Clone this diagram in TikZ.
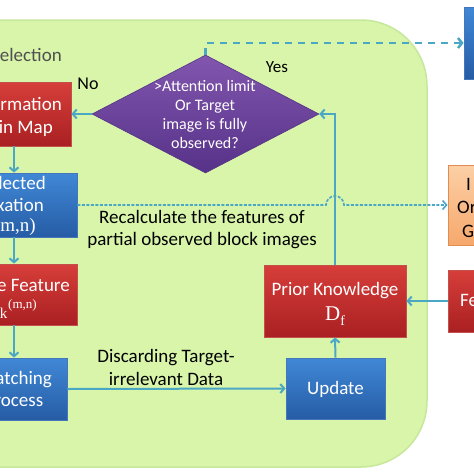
\documentclass[tikz,border=0pt]{standalone}
\usepackage[no-math]{fontspec}
\setmainfont{Carlito}
\newfontfamily\serifmath{Liberation Serif}
\usetikzlibrary{arrows.meta,shapes.geometric,calc}
\definecolor{bggreen}{RGB}{216,245,170}
\definecolor{bgedge}{RGB}{198,232,156}
\definecolor{conncol}{RGB}{75,168,196}
\definecolor{redtop}{RGB}{214,62,58}
\definecolor{redbot}{RGB}{170,32,34}
\definecolor{rededge}{RGB}{196,80,76}
\definecolor{bluetop}{RGB}{64,136,214}
\definecolor{bluebot}{RGB}{38,92,165}
\definecolor{blueedge}{RGB}{70,118,186}
\definecolor{purtop}{RGB}{130,86,174}
\definecolor{purbot}{RGB}{86,50,136}
\definecolor{orangetop}{RGB}{252,208,166}
\definecolor{orangebot}{RGB}{246,168,108}
\definecolor{orangeedge}{RGB}{226,140,82}
\definecolor{labelgray}{RGB}{80,80,80}
\tikzset{
  redbox/.style={rectangle, top color=redtop, bottom color=redbot, draw=rededge, line width=0.8pt, inner sep=0pt},
  bluebox/.style={rectangle, top color=bluetop, bottom color=bluebot, draw=blueedge, line width=0.8pt, inner sep=0pt},
  orangebox/.style={rectangle, top color=orangetop, bottom color=orangebot, draw=orangeedge, line width=0.8pt, inner sep=0pt},
  wtxt/.style={text=white, font=\fontsize{19}{23}\selectfont, inner sep=0pt},
  wser/.style={text=white, inner sep=0pt},
  btxt/.style={text=black, font=\fontsize{19}{22}\selectfont, inner sep=0pt},
  conn/.style={draw=conncol, line width=2pt, -{Straight Barb[length=4pt,width=9pt]}},
  dashtop/.style={draw=conncol, line width=2.5pt, dash pattern=on 7pt off 6pt, -{Straight Barb[length=4pt,width=10pt]}},
  dashrec/.style={draw=conncol, line width=1.6pt, dash pattern=on 3pt off 1.5pt, -{Straight Barb[length=4pt,width=9pt]}},
}
\begin{document}
\begin{tikzpicture}[x=1pt,y=-1pt]
\useasboundingbox (0,0) rectangle (474,474);
% background region
\path[fill=bggreen, draw=bgedge, line width=1.5pt, rounded corners=66pt] (-120,20) rectangle (427,467);
\node[anchor=base east, text=labelgray, font=\fontsize{19}{23}\selectfont, inner sep=0pt] (sectitle) at (62,61) {election};

% boxes
\node[redbox, minimum width=131pt, minimum height=64pt] (info) at (5.5,114) {};
\node[bluebox, minimum width=137pt, minimum height=64pt] (sel) at (8.5,205) {};
\node[redbox, minimum width=137pt, minimum height=61pt] (feat) at (8.5,294.5) {};
\node[bluebox, minimum width=127pt, minimum height=62pt] (match) at (3.5,389) {};
\node[bluebox, minimum width=99pt, minimum height=61pt] (upd) at (335.5,388.5) {};
\node[redbox, minimum width=142pt, minimum height=72pt] (prior) at (335,301) {};
\node[redbox, minimum width=82pt, minimum height=62pt] (fe) at (489,301) {};
\node[orangebox, minimum width=82pt, minimum height=80pt] (orng) at (489,205) {};
\node[bluebox, minimum width=66pt, minimum height=72pt] (tb) at (497,43) {};
\node[diamond, aspect=1.92, minimum width=227pt, minimum height=118pt, inner sep=0pt,
      top color=purtop, bottom color=purbot, draw=purbot, line width=0.6pt] (dia) at (205.5,114) {};

% texts in boxes
\node[wtxt, anchor=base east] (t1a) at (62,110.5) {rmation};
\node[wtxt, anchor=base east] (t1b) at (53,133) {in Map};
\node[wtxt, anchor=base east] (t2a) at (46,189.5) {lected};
\node[wtxt, anchor=base east] (t2b) at (44,211.5) {xation};
\node[wser, anchor=base east, font=\serifmath\fontsize{19}{23}\selectfont] (t2c) at (36,231) {(m,n)};
\node[wtxt, anchor=base east] (t3a) at (70,291) {e Feature};
\node[wser, font=\serifmath\fontsize{15}{17}\selectfont] (t3b) at (3.5,313) {k};
\node[wser, font=\serifmath\fontsize{13}{15}\selectfont] (t3c) at (22.5,305) {(m,n)};
\node[wtxt, anchor=base east] (t4a) at (52,384.5) {atching};
\node[wtxt, anchor=base east] (t4b) at (43.5,406) {rocess};
\node[wtxt] (tupd) at (335.5,389) {Update};
\node[wtxt] (tpk1) at (335,291) {Prior Knowledge};
\node[wser, font=\serifmath\fontsize{21}{23}\selectfont] (tpk2) at (335,316) {D\raisebox{-0.25em}{\fontsize{14}{16}\selectfont f}};
\node[wtxt, anchor=base west] (tfe) at (460,306) {Fe};
\node[btxt, anchor=base west] (to1) at (466,190) {I};
\node[btxt, anchor=base west] (to2) at (457,213) {Or};
\node[btxt, anchor=base west] (to3) at (462,237) {G};
\node[text=white, font=\fontsize{16}{19}\selectfont, align=center, inner sep=0pt] (tdia) at (205,114.5)
  {>Attention limit\\Or Target\\image is fully\\observed?};

% labels
\node[btxt, font=\fontsize{18}{20}\selectfont] (no) at (88,84) {No};
\node[btxt, font=\fontsize{17}{20}\selectfont] (yes) at (277,67) {Yes};
\node[btxt, align=center] (recalc) at (202,230) {Recalculate the features of\\partial observed block images};
\node[btxt, align=center, font=\fontsize{19}{23}\selectfont] (disc) at (166,367.5) {Discarding Target-\\irrelevant Data};

% connectors
\coordinate (xl) at (14,0);
\coordinate (h1) at (326,205);
\draw[conn] (dia.west) -- (dia.west -| info.east);
\draw[conn] (info.south -| xl) -- (sel.north -| xl);
\draw[conn] (sel.south -| xl) -- (feat.north -| xl);
\draw[conn] (feat.south -| xl) -- (match.north -| xl);
\draw[conn] (match.east) -- (upd.west);
\draw[conn] (upd.north) -- (prior.south);
\draw[conn] (fe.west) -- (prior.east);
\draw[conn] (prior.north) |- (dia.east);
\draw[dashtop] (dia.north) |- (tb.west);
\draw[dashrec] (sel.east) -- (h1) arc[start angle=180, end angle=0, radius=9pt] -- (orng.west);
\end{tikzpicture}
\end{document}
